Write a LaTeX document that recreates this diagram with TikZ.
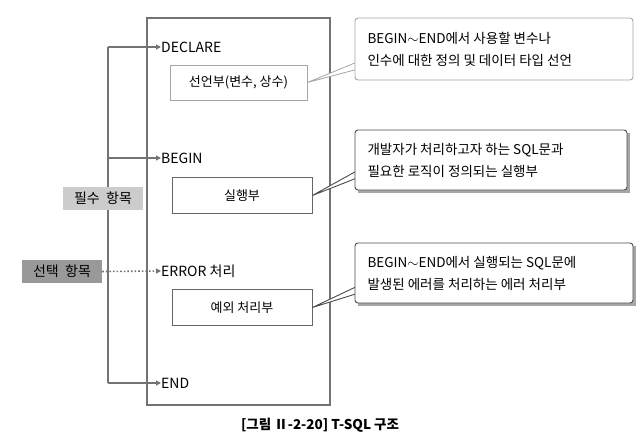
\documentclass[tikz,border=0pt]{standalone}
\usepackage{fontspec}
\setmainfont{Noto Sans CJK KR}
\usetikzlibrary{arrows.meta}
\begin{document}
\begin{tikzpicture}[x=1pt,y=-1pt,
  ln/.style={draw=black!55,line width=1.6pt},
  arr/.style={ln,-{Triangle[length=5pt,width=5pt]}},
  inner/.style={draw=black!60,line width=0.8pt,fill=white,minimum width=140pt,minimum height=36pt,font=\fontsize{13}{15}\selectfont},
  lbl/.style={font=\fontsize{14}{16}\selectfont,anchor=west,inner sep=0pt},
  tag/.style={minimum width=80pt,minimum height=23pt,inner sep=0pt,font=\fontsize{14}{16}\selectfont},
  ctext/.style={font=\fontsize{13.5}{22}\selectfont,align=left,anchor=west},
  call/.style={draw=black!70,line width=0.9pt,rounded corners=3pt,fill=white,align=left,inner sep=0pt}]
\useasboundingbox (0,0) rectangle (640,444);
\node[draw=black!55,line width=1.2pt,minimum width=183pt,minimum height=387pt,inner sep=0pt] (main) at (238.5,211.5) {};
\coordinate (top) at (108,47);
\coordinate (bot) at (108,383);
\node[lbl] (decl) at (161,47) {DECLARE};
\node[lbl] (beg) at (161,158) {BEGIN};
\node[lbl] (err) at (161,271) {ERROR 처리};
\node[lbl] (end) at (161,383) {END};
\draw[ln] (top) -- (bot);
\draw[arr] (top) -- (decl.west);
\draw[arr] (108,158) -- (beg.west);
\draw[arr] (bot) -- (end.west);
\node[inner,draw=black!35,minimum width=137pt,minimum height=35pt] (b1) at (238.5,82.5) {선언부(변수, 상수)};
\node[inner] (b2) at (242,195.5) {실행부};
\node[inner] (b3) at (242,307.5) {예외 처리부};
\node[tag,fill=black!20] (t1) at (103,198.5) {필수\ \ 항목};
\node[tag,fill=black!40] (t2) at (62,271.5) {선택\ \ 항목};
\draw[draw=black!55,line width=1.6pt,dotted,-{Triangle[length=5pt,width=5pt]}] (t2.east) -- (err.west);
% callouts
\draw[draw=black!35,line width=0.8pt,fill=white] (b1.east) -- (362,60) -- (362,68) -- cycle;
\node[call,draw=black!35,minimum width=278pt,minimum height=62pt] (c1) at (494,49) {};
\node[ctext] at (364,49) {BEGIN$\sim$END에서 사용할 변수나\\인수에 대한 정의 및 데이터 타입 선언};
\fill[black!35] (358,133) rectangle (630,193);
\draw[draw=black!70,line width=0.9pt,fill=white] (b2.east) -- (362,168) -- (362,176) -- cycle;
\node[call,minimum width=272pt,minimum height=60pt] (c2) at (491,160) {};
\node[ctext] at (364,160) {개발자가 처리하고자 하는 SQL문과\\필요한 로직이 정의되는 실행부};
\fill[black!35] (358,246) rectangle (636,306);
\draw[draw=black!70,line width=0.9pt,fill=white] (b3.east) -- (362,284) -- (362,292) -- cycle;
\node[call,minimum width=278pt,minimum height=60pt] (c3) at (494,273) {};
\node[ctext] at (364,273) {BEGIN$\sim$END에서 실행되는 SQL문에\\발생된 에러를 처리하는 에러 처리부};
\node[font=\bfseries\fontsize{13.5}{15}\selectfont] (cap) at (320,425) {[그림 Ⅱ-2-20] T-SQL 구조};
\end{tikzpicture}
\end{document}
